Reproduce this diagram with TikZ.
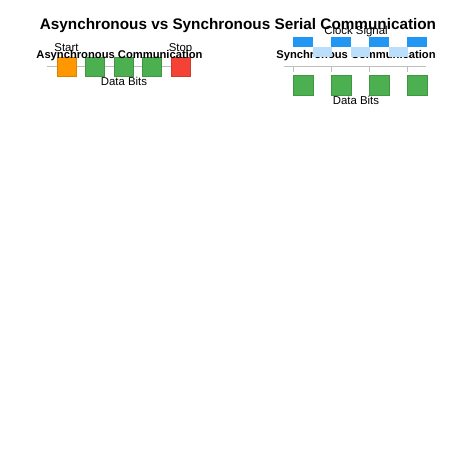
\documentclass[tikz,border=0pt]{standalone}
\usepackage{fontspec}
\setmainfont{Liberation Sans}
\usetikzlibrary{positioning}
\definecolor{bitOrange}{RGB}{255,152,0}
\definecolor{bitGreen}{RGB}{76,175,80}
\definecolor{bitRed}{RGB}{244,67,54}
\definecolor{clkBlue}{RGB}{33,150,243}
\definecolor{clkLight}{RGB}{187,222,251}
\definecolor{wireGray}{RGB}{190,190,190}

\begin{document}
\begin{tikzpicture}[x=1pt, y=-1pt, every node/.style={inner sep=0pt},
		label/.style={font=\fontsize{11.4}{13}\selectfont, anchor=base},
		heading/.style={font=\fontsize{11.2}{13}\selectfont\bfseries, anchor=base},
		bit/.style={draw=#1!85!black, line width=0.4pt, fill=#1, minimum width=19pt, minimum height=19pt},
		clk/.style={fill=#1, minimum width=20pt, minimum height=10pt},
		wire/.style={wireGray, line width=1pt}]
		\useasboundingbox (0,0) rectangle (474,474);
		\node[font=\fontsize{15.3}{18}\selectfont\bfseries, anchor=base] (title) at (238,29.5) {Asynchronous vs Synchronous Serial Communication};
		% Asynchronous frame
		\coordinate (aw1) at (47,66.5);
		\coordinate (aw2) at (190,66.5);
		\draw[wire] (aw1) -- (aw2);
		\node[bit=bitOrange] (a0) at (66.5,66.5) {};
		\node[bit=bitGreen] (a1) at (94.5,66.5) {};
		\node[bit=bitGreen] (a2) at (123.5,66.5) {};
		\node[bit=bitGreen] (a3) at (151.5,66.5) {};
		\node[bit=bitRed] (a4) at (180.5,66.5) {};
		\node[label] (start) at (66.5,51.5) {Start};
		\node[label] (stop) at (180.5,51.5) {Stop};
		\node[heading] (async) at (119.5,58) {Asynchronous Communication};
		\node[label] (adata) at (124,85) {Data Bits};
		% Synchronous frame
		\node[label] (clock) at (356,34) {Clock Signal};
		\node[heading] (sync) at (356,58) {Synchronous Communication};
		\foreach \x [count=\i] in {303,341,379,417} {
			\node[clk=clkBlue] (c\i) at (\x,42) {};
			\node[bit=bitGreen, minimum width=20pt, minimum height=20pt] (s\i) at (\x,85) {};
		}
		\foreach \x [count=\i] in {322.5,360.5,398.5} {
			\node[clk=clkLight, minimum width=19pt] (l\i) at (\x,52) {};
		}
		\coordinate (sw1) at (284,66);
		\coordinate (sw2) at (426,66);
		\draw[wire] (sw1) -- (sw2);
		\foreach \x in {293,331,369,407} {
			\draw[wireGray, line width=0.6pt] (\x,66) -- (\x,72);
		}
		\node[label] (sdata) at (356,104) {Data Bits};
	\end{tikzpicture}
\end{document}
